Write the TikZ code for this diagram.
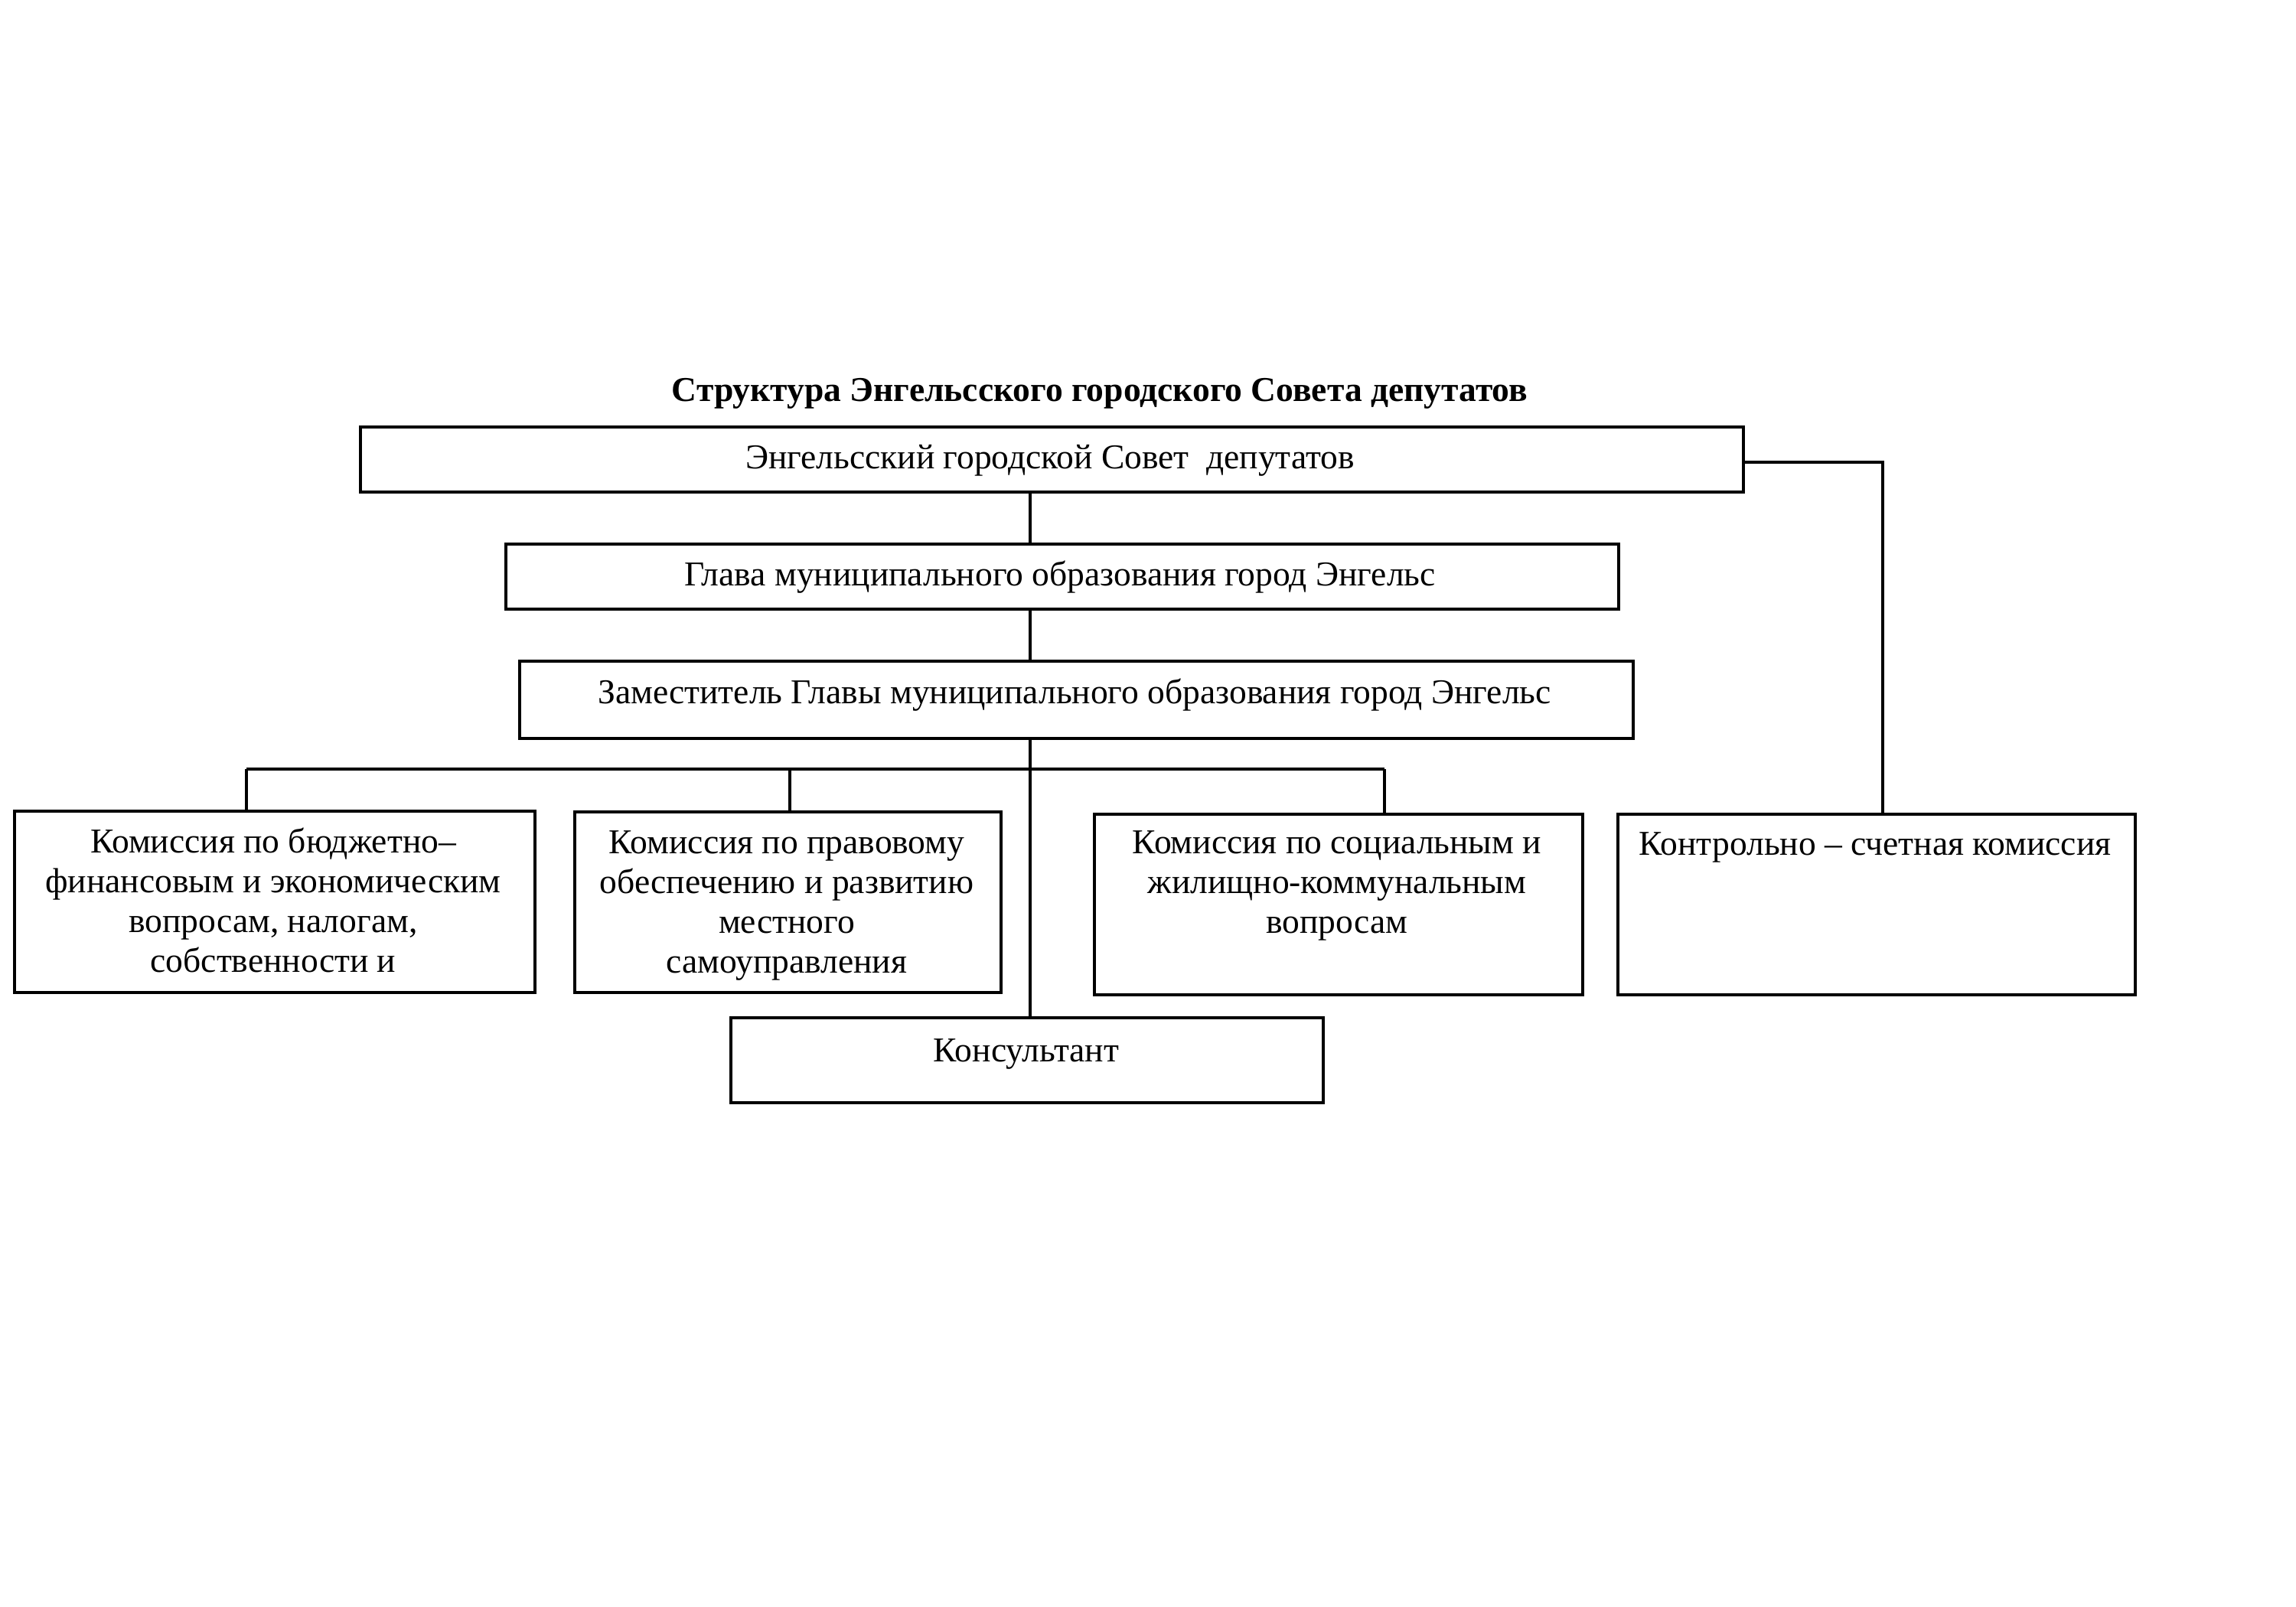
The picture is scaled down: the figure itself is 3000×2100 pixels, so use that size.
\documentclass[tikz,border=0pt]{standalone}
\usepackage{fontspec}
\setmainfont{Liberation Serif}
\begin{document}
\begin{tikzpicture}[x=0.01cm, y=-0.01cm,
  box/.style={draw=black, line width=1.1pt, inner sep=0pt, anchor=north west},
  txt/.style={font=\fontsize{12.95}{14.8}\selectfont, align=center, inner sep=0pt, text=black},
  ttl/.style={font=\fontsize{12.95}{14.8}\selectfont\bfseries, inner sep=0pt, anchor=base, text=black},
  con/.style={draw=black, line width=0.9pt}]
\useasboundingbox[fill=white] (0,0) rectangle (3000,2100);

% title
\node[ttl] (title) at (1437,524) {Структура Энгельсского городского Совета депутатов};

% boxes
\node[box, minimum width=18.06cm, minimum height=0.85cm] (b1) at (469,556) {};
\node[box, minimum width=14.53cm, minimum height=0.85cm] (b2) at (659,709) {};
\node[box, minimum width=14.54cm, minimum height=1.01cm] (b3) at (677,862) {};
\node[box, minimum width=6.80cm, minimum height=2.37cm] (b4) at (17,1058) {};
\node[box, minimum width=5.57cm, minimum height=2.36cm] (b5) at (749,1059) {};
\node[box, minimum width=6.38cm, minimum height=2.36cm] (b6) at (1428,1062) {};
\node[box, minimum width=6.76cm, minimum height=2.36cm] (b7) at (2112,1062) {};
\node[box, minimum width=7.74cm, minimum height=1.11cm] (b8) at (953,1328) {};

% texts
\node[txt, anchor=base] (t1) at (1372,612) {Энгельсский городской Совет\ \ депутатов};
\node[txt, anchor=base] (t2) at (1385,765) {Глава муниципального образования город Энгельс};
\node[txt, anchor=base] (t3) at (1404,919) {Заместитель Главы муниципального образования город Энгельс};
\node[txt, anchor=north] (t4) at (357,1077.6) {\strut Комиссия по бюджетно–\\финансовым и экономическим\\вопросам, налогам,\\собственности и};
\node[txt, anchor=north] (t5) at (1028,1078.6) {\strut Комиссия по правовому\\обеспечению и развитию\\местного\\самоуправления};
\node[txt, anchor=north] (t6) at (1747,1078.6) {\strut Комиссия по социальным и\\жилищно-коммунальным\\вопросам};
\node[txt, anchor=base] (t7) at (2450,1117) {Контрольно – счетная комиссия};
\node[txt, anchor=base] (t8) at (1341,1387) {Консультант};

% connector helper coordinates
\coordinate (trunk) at (1346,0);
\coordinate (bus) at (0,1005);
\coordinate (s4) at (322,0);
\coordinate (s5) at (1032,0);
\coordinate (s6) at (1809,0);
\coordinate (rside) at (2460,604);

% connectors
\draw[con] (b1.south -| trunk) -- (b2.north -| trunk);
\draw[con] (b2.south -| trunk) -- (b3.north -| trunk);
\draw[con] (b3.south -| trunk) -- (b8.north -| trunk);
\draw[con] (s4 |- bus) -- (s6 |- bus);
\draw[con] (s4 |- bus) -- (b4.north -| s4);
\draw[con] (s5 |- bus) -- (b5.north -| s5);
\draw[con] (s6 |- bus) -- (b6.north -| s6);
\draw[con] (b1.east |- rside) -- (rside) -- (b7.north -| rside);
\end{tikzpicture}
\end{document}
